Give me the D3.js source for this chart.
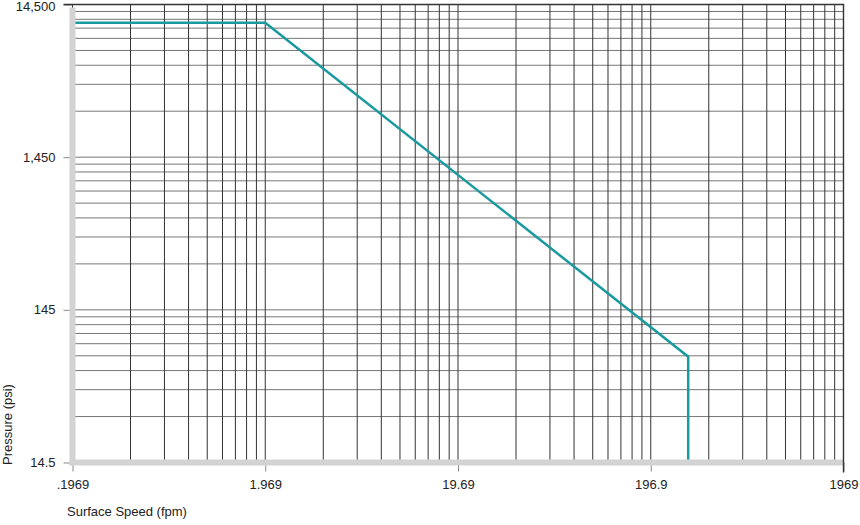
<!DOCTYPE html>
<html>
<head>
<meta charset="utf-8">
<script src="https://cdn.jsdelivr.net/npm/d3@7"></script>
<style>
  body { margin: 0; background: #fff; }
  svg text { font-family: "Liberation Sans", Arial, Helvetica, sans-serif; font-size: 13px; fill: #222; }
</style>
</head>
<body>
<div id="chart"></div>
<script>
// Log-log chart: pressure vs surface speed
const xTickValues = [0.1969, 1.969, 19.69, 196.9, 1969];
const xTickLabels = ['.1969', '1.969', '19.69', '196.9', '1969'];
const yTickValues = [14.5, 145, 1450, 14500];
const yTickLabels = ['14.5', '145', '1,450', '14,500'];
const gridMultipliers = [1, 2, 3, 4, 5, 6, 7, 8, 9];

// limit curve
const speeds = [0.1969, 1.969, 308, 308];
const pressures = [11000, 11000, 71.5, 14.5];

const width = 860, height = 525;
const plot = { left: 72.5, right: 843.5, top: 4.5, bottom: 462.5 };

const svg = d3.select('#chart').append('svg')
  .attr('width', width)
  .attr('height', height);

const x = d3.scaleLog().domain([0.1969, 1969]).range([plot.left, plot.right]);
const y = d3.scaleLog().domain([14.5, 14500]).range([plot.bottom, plot.top]);

// grid values: every 1..9 multiple of each decade
const xGrid = [];
xTickValues.slice(0, -1).forEach(d => gridMultipliers.forEach(k => xGrid.push(d * k)));
const yGrid = [];
yTickValues.slice(0, -1).forEach(d => gridMultipliers.forEach(k => yGrid.push(d * k)));

const grid = svg.append('g').attr('class', 'grid');

grid.selectAll('.hgrid')
  .data(yGrid)
  .enter().append('line')
  .attr('class', 'hgrid')
  .attr('x1', plot.left).attr('x2', plot.right)
  .attr('y1', d => y(d)).attr('y2', d => y(d))
  .attr('stroke', '#777')
  .attr('stroke-width', 1);

grid.selectAll('.vgrid')
  .data(xGrid)
  .enter().append('line')
  .attr('class', 'vgrid')
  .attr('x1', d => x(d)).attr('x2', d => x(d))
  .attr('y1', plot.top).attr('y2', plot.bottom)
  .attr('stroke', '#333')
  .attr('stroke-width', 1);

// limit line
const data = speeds.map((s, i) => ({ s: s, p: pressures[i] }));
svg.append('path')
  .datum(data)
  .attr('fill', 'none')
  .attr('stroke', '#1a9aa0')
  .attr('stroke-width', 2.5)
  .attr('stroke-linejoin', 'miter')
  .attr('d', d3.line().x(d => x(d.s)).y(d => y(d.p)));

// Y axis
const yAxis = svg.append('g')
  .attr('transform', `translate(${plot.left},0)`)
  .call(d3.axisLeft(y)
    .tickValues(yTickValues)
    .tickFormat((d, i) => yTickLabels[i])
    .tickSize(9)
    .tickPadding(8));
yAxis.select('.domain').remove();
yAxis.selectAll('line').attr('stroke', '#888');
yAxis.selectAll('text').attr('dy', '0.3em');
// top label sits a little lower so it stays on the page
yAxis.selectAll('text').filter(d => d === 14500).attr('dy', '0.45em');

// X axis
const xAxis = svg.append('g')
  .attr('transform', `translate(0,${plot.bottom})`)
  .call(d3.axisBottom(x)
    .tickValues(xTickValues)
    .tickFormat((d, i) => xTickLabels[i])
    .tickSize(9)
    .tickPadding(8));
xAxis.select('.domain').remove();
xAxis.selectAll('line').attr('stroke', '#888');

// thick gray axis bars
svg.append('line')
  .attr('x1', plot.left).attr('x2', plot.left)
  .attr('y1', plot.top + 3).attr('y2', plot.bottom + 3)
  .attr('stroke', '#d3d3d3')
  .attr('stroke-width', 6);
svg.append('line')
  .attr('x1', plot.left - 3).attr('x2', plot.right)
  .attr('y1', plot.bottom).attr('y2', plot.bottom)
  .attr('stroke', '#d3d3d3')
  .attr('stroke-width', 6);

// dark top and right edges, running out as ticks
svg.append('line')
  .attr('x1', plot.left - 9).attr('x2', plot.right + 0.7)
  .attr('y1', plot.top).attr('y2', plot.top)
  .attr('stroke', '#333')
  .attr('stroke-width', 1.4);
svg.append('line')
  .attr('x1', plot.right).attr('x2', plot.right)
  .attr('y1', plot.top).attr('y2', plot.bottom + 10)
  .attr('stroke', '#333')
  .attr('stroke-width', 1.4);

// axis titles
svg.append('text')
  .attr('x', 67)
  .attr('y', 516)
  .text('Surface Speed (fpm)');

svg.append('text')
  .attr('transform', 'translate(11.5,465) rotate(-90)')
  .text('Pressure (psi)');
</script>
</body>
</html>
